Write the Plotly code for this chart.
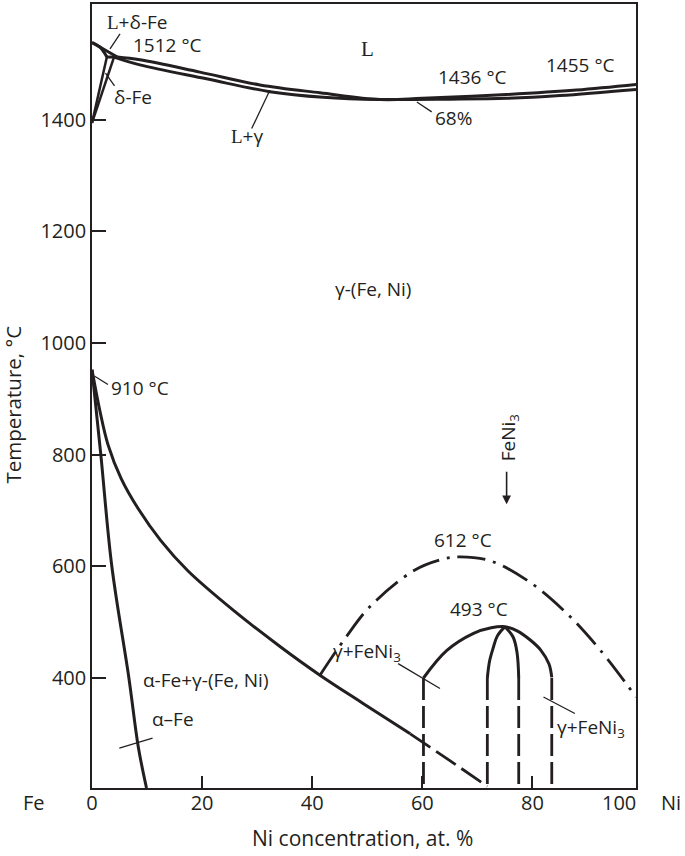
import plotly.graph_objects as go

# Fe-Ni phase diagram
INK = "#231f20"
FONT = "Open Sans"

# liquidus: Fe melting point to the peritectic, then on to Ni side
liq_fe_x = [0, 4.6]
liq_fe_t = [1538, 1512]
liq_x = [4.6, 8.7, 19.6, 30.5, 41.4, 52.3, 60, 75.3, 88, 98.8]
liq_t = [1512, 1507, 1485, 1462, 1448, 1436, 1438, 1445, 1453, 1463]

# solidus of gamma
sol_x = [4.0, 8.7, 20.8, 32.3, 42, 52.3, 65, 75.3, 85, 98.8]
sol_t = [1512, 1498, 1473, 1450, 1440, 1436, 1436.5, 1438, 1443, 1454]

# delta-Fe region
delta_sol_x = [0, 1.45, 2.36, 2.7]
delta_sol_t = [1538, 1530, 1518, 1512]
perit_x = [2.7, 4.6]
perit_t = [1512, 1512]
delta_solvus_x = [2.7, 0]
delta_solvus_t = [1512, 1394]
gamma_solvus_x = [4.0, 0]
gamma_solvus_t = [1512, 1394]

# gamma / (alpha+gamma) boundary, solid then dashed
ga_x = [0, 1.4, 2.9, 5.3, 8.4, 12.5, 17.4, 25.7, 34.2, 41.4, 49.3, 57.8]
ga_t = [952, 880, 818, 757, 703, 646, 592, 521, 456, 405, 354, 300]
ga_dash_x = [57.8, 65, 71.8]
ga_dash_t = [300, 252, 206]

# alpha / (alpha+gamma) boundary
alpha_x = [0, 1.6, 3.6, 6.7, 8.4, 9.9]
alpha_t = [952, 800, 600, 400, 277, 203]

# 612 °C dash-dot curve
dd_x = [41.4, 45.9, 50.5, 58.4, 63.8, 66.8, 72.3, 79.6, 86.2, 92.3, 98.8]
dd_t = [405, 470, 528, 592, 613, 617, 610, 571, 516, 450, 366]

# FeNi3 ordering dome (493 °C)
dome_x = [60.2, 64.4, 69.3, 72.5, 75, 77.3, 79.6, 81.5, 83.0, 83.5]
dome_t = [400, 449, 480, 490, 492, 484, 468, 450, 425, 401]
inner_l_x = [75, 73.6, 72.9, 72.2, 71.8]
inner_l_t = [492, 475, 455, 430, 400]
inner_r_x = [75, 76.5, 77.2, 77.5]
inner_r_t = [492, 473, 445, 400]

# dashed verticals below the dome
vert_x = [60.2, 71.8, 77.5, 83.5]
vert_top = 400
t_min, t_max = 203, 1607
x_max = 98.8

x_ticks = [0, 20, 40, 60, 80]
x_ticktext = ["0", "20", "40", "60", "80"]
y_ticks = [400, 600, 800, 1000, 1200, 1400]
y_ticktext = ["400", "600", "800", "1000", "1200", "1400"]

fig = go.Figure()


def curve(x, y, width=3, dash="solid", shape="spline"):
    fig.add_trace(go.Scatter(
        x=x, y=y, mode="lines",
        line=dict(color=INK, width=width, dash=dash, shape=shape, smoothing=1),
        hoverinfo="skip", showlegend=False,
    ))


curve(liq_fe_x, liq_fe_t, shape="linear")
curve(liq_x, liq_t)
curve(sol_x, sol_t)
curve(delta_sol_x, delta_sol_t)
curve(perit_x, perit_t, shape="linear")
curve(delta_solvus_x, delta_solvus_t, width=2.5, shape="linear")
curve(gamma_solvus_x, gamma_solvus_t, width=2.5, shape="linear")
curve(ga_x, ga_t)
curve(ga_dash_x, ga_dash_t, width=2.8, dash="24px,7px")
curve(alpha_x, alpha_t)
curve(dd_x, dd_t, width=2.8, dash="28px,8px,3px,8px")
curve(dome_x, dome_t)
curve(inner_l_x, inner_l_t)
curve(inner_r_x, inner_r_t)

vx, vy = [], []
for v in vert_x:
    vx += [v, v, None]
    vy += [vert_top, t_min, None]
curve(vx, vy, width=2.8, dash="22px,6px", shape="linear")

# leader lines for the labels
leaders = [
    (5.09, 1553.6, 3.27, 1526.8),
    (2.45, 1483.4, 4.09, 1460.2),
    (32.3, 1452.5, 29.0, 1383.9),
    (59.0, 1431.6, 61.7, 1413.8),
    (0.49, 940.5, 2.9, 925.7),
    (4.96, 274.5, 11.0, 292.3),
    (55.6, 425.7, 63.2, 381.1),
    (82.0, 366.0, 87.7, 336.4),
]
shapes = [dict(type="line", xref="x", yref="y", x0=a, y0=b, x1=c, y1=d,
               line=dict(color=INK, width=1.3)) for a, b, c, d in leaders]

SERIF_L = '<span style="font-family:Liberation Serif">L</span>'


def label(text, x, y, size=19, **kw):
    d = dict(text=text, x=x, y=y, xref="x", yref="y", showarrow=False,
             font=dict(family=FONT, size=size, color=INK))
    d.update(kw)
    return d


def outer(text, x, y, size=20, **kw):
    d = dict(text=text, x=x, y=y, xref="paper", yref="paper", showarrow=False,
             xanchor="center", yanchor="middle",
             font=dict(family=FONT, size=size, color=INK))
    d.update(kw)
    return d


annotations = [
    label(SERIF_L + "+δ-Fe", 8.1, 1574),
    label("1512 °C", 13.8, 1534),
    label("δ-Fe", 7.4, 1440),
    label("L", 50.0, 1526, font=dict(family="Liberation Serif", size=21, color=INK)),
    label("1436 °C", 69.1, 1476),
    label("1455 °C", 88.8, 1497),
    label("68%", 65.6, 1402),
    label(SERIF_L + "+γ", 28.1, 1371),
    label("γ-(Fe, Ni)", 51.1, 1096),
    label("910 °C", 8.7, 919),
    label("α-Fe+γ-(Fe, Ni)", 20.7, 396),
    label("α–Fe", 14.8, 326),
    label("612 °C", 67.3, 648),
    label("493 °C", 70.3, 523),
    label("γ+FeNi<sub>3</sub>", 43.4, 446, xanchor="left"),
    label("γ+FeNi<sub>3</sub>", 84.0, 311, xanchor="left"),
    label("FeNi<sub>3</sub>", 75.8, 830, textangle=-90),
    # arrow pointing at FeNi3 composition
    dict(x=75.3, y=711, ax=75.3, ay=772, xref="x", yref="y", axref="x", ayref="y",
         text="", showarrow=True, arrowhead=2, arrowsize=1.1, arrowwidth=1.6,
         arrowcolor=INK),
    # axis titles and end labels
    outer("Temperature, °C", -0.146, 0.4885, size=20.5, textangle=-90),
    outer("Ni concentration, at. %", 0.498, -0.0636, size=21),
    outer("Fe", -0.107, -0.019),
    outer("Ni", 1.065, -0.019),
    outer("100", 1.003, -0.019, xanchor="right"),
]

fig.update_layout(
    width=685, height=856,
    margin=dict(l=92, r=49, t=2, b=68),
    paper_bgcolor="white", plot_bgcolor="white",
    shapes=shapes, annotations=annotations,
    font=dict(family=FONT, size=20, color=INK),
)
fig.update_xaxes(
    range=[0, x_max], tickvals=x_ticks, ticktext=x_ticktext,
    ticks="inside", ticklen=12, tickwidth=1.5, tickcolor=INK,
    showline=True, linewidth=1.6, linecolor=INK, mirror=True,
    showgrid=False, zeroline=False, ticklabelstandoff=-4,
)
fig.update_yaxes(
    range=[t_min, t_max], tickvals=y_ticks, ticktext=y_ticktext,
    ticks="inside", ticklen=14, tickwidth=1.5, tickcolor=INK,
    showline=True, linewidth=1.6, linecolor=INK, mirror=True,
    showgrid=False, zeroline=False, ticklabelstandoff=0,
)

# the page body has a default margin; drop it so the figure sits at the corner
fig.write_html("out.html", config={"displayModeBar": False},
               post_script="document.body.style.margin='0';")
